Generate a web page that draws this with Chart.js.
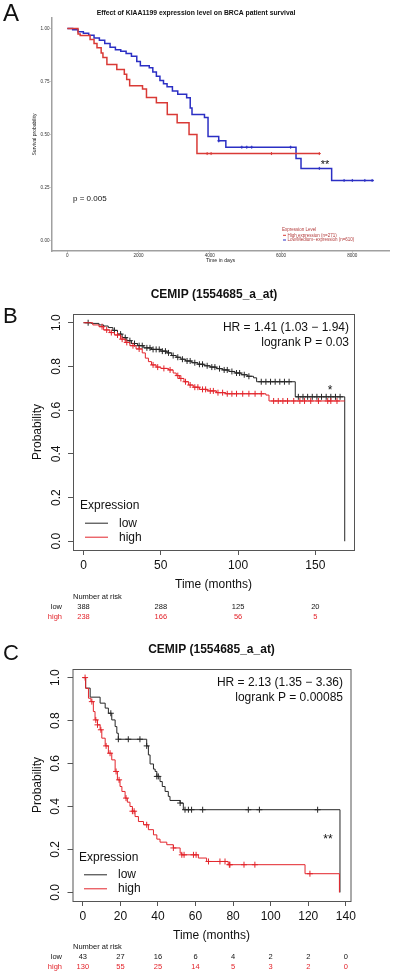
<!DOCTYPE html>
<html>
<head>
<meta charset="utf-8">
<script src="https://cdn.jsdelivr.net/npm/chart.js@4"></script>
<style>
  body { margin: 0; background: #fff; }
  #wrap { position: relative; width: 394px; height: 976px; }
  canvas { position: absolute; left: 0; }
</style>
</head>
<body>
<div id="wrap">
  <canvas id="chartA" width="394" height="270" style="top:0;width:394px;height:270px"></canvas>
  <canvas id="chartB" width="394" height="370" style="top:270px;width:394px;height:370px"></canvas>
  <canvas id="chartC" width="394" height="336" style="top:640px;width:394px;height:336px"></canvas>
</div>
<script>
// ---- panel A : TCGA BRCA, time in days ----
const daysTicksA = [0, 2000, 4000, 6000, 8000];
const probTicksA = [0, 0.25, 0.5, 0.75, 1];
const highA = [[0,1],[300,0.975],[361,0.967],[639,0.948],[750,0.93],[833,0.91],[950,0.885],[1000,0.863],[1111,0.83],
  [1389,0.807],[1600,0.785],[1667,0.76],[1750,0.73],[2111,0.715],[2222,0.675],[2500,0.65],[2806,0.594],[3083,0.555],
  [3417,0.5],[3639,0.41],[7083,0.41]];
const lowMedA = [[0,1],[150,0.995],[300,0.985],[450,0.978],[600,0.968],[750,0.955],[900,0.945],[1050,0.93],[1200,0.912],
  [1350,0.9],[1500,0.893],[1650,0.882],[1800,0.87],[1950,0.845],[2050,0.825],[2300,0.815],[2400,0.795],[2500,0.775],
  [2600,0.755],[2700,0.74],[2800,0.725],[2950,0.705],[3100,0.69],[3350,0.674],[3450,0.625],[3500,0.594],[3850,0.58],
  [3950,0.49],[4250,0.47],[4450,0.44],[6420,0.387],[6560,0.34],[7420,0.283],[8600,0.283]];
const highCensorA = [3925, 4036, 5731, 7074];
const lowMedCensorA = [4250, 4898, 5037, 5176, 6269, 7074, 7769, 8000, 8352, 8556];
const legendA = ['High expression (n=271)', 'Low/Medium\u2212expression (n=610)'];

// ---- panel B ----
const monthTicksB = [0, 50, 100, 150];
const probTicksBC = [0, 0.2, 0.4, 0.6, 0.8, 1];
const lowB = [[0,1],[5,0.997],[10,0.99],[13,0.985],[16,0.978],[19,0.965],[22,0.948],[25,0.932],[28,0.918],[31,0.905],
  [35,0.895],[39,0.885],[44,0.878],[50,0.87],[54,0.862],[57,0.85],[60,0.842],[63,0.833],[66,0.825],[70,0.817],[74,0.81],
  [78,0.803],[82,0.797],[86,0.79],[90,0.784],[94,0.777],[98,0.77],[102,0.762],[106,0.755],[110,0.748],[112,0.73],
  [137,0.661],[169,0]];
const highB = [[0,1],[6,0.99],[10,0.982],[13,0.967],[17,0.955],[20,0.944],[24,0.925],[27,0.91],[30,0.895],[34,0.88],
  [38,0.862],[40,0.838],[42,0.822],[44,0.807],[47,0.797],[50,0.791],[55,0.784],[58,0.77],[60,0.758],[62,0.745],
  [65,0.73],[68,0.715],[71,0.705],[75,0.695],[80,0.688],[86,0.68],[92,0.675],[118,0.669],[120,0.642],[169,0.642]];
const lowCensorB = [3,20,24,27,30,33,36,38,41,43,45,47,49,51,53,55,58,61,64,67,69,72,75,77,80,83,85,88,91,93,96,99,
  101,104,107,115,118,121,124,127,130,133,139,142,145,148,151,154,157,160,163,166];
const highCensorB = [12,15,18,22,25,28,32,36,45,48,52,56,61,63,66,69,72,74,77,79,82,84,87,90,93,96,99,103,107,111,
  115,123,126,129,132,136,140,143,147,152,158,160,164];
const riskLowB = [388, 288, 125, 20];
const riskHighB = [238, 166, 56, 5];

// ---- panel C ----
const monthTicksC = [0, 20, 40, 60, 80, 100, 120, 140];
const lowC = [[0,1],[1.5,0.951],[3.9,0.909],[9.2,0.881],[11.9,0.858],[13.6,0.834],[15.4,0.803],[17.2,0.772],[18.1,0.741],
  [18.9,0.713],[34,0.682],[34.9,0.64],[35.8,0.598],[37.6,0.574],[38.5,0.563],[39.4,0.54],[41.1,0.516],[42.3,0.493],
  [43.8,0.47],[45.5,0.447],[46.4,0.428],[51.8,0.416],[53.5,0.385],[136.9,0]];
const highC = [[0,1],[1.5,0.95],[3,0.904],[4.3,0.888],[5.6,0.842],[6.5,0.803],[7.8,0.78],[9.2,0.757],[10.1,0.718],
  [11.9,0.682],[13.6,0.648],[15.4,0.617],[17.2,0.563],[18.4,0.524],[19.8,0.493],[20.8,0.47],[22.5,0.439],[23.7,0.42],
  [25.1,0.4],[26.4,0.378],[27.8,0.353],[29.6,0.33],[32.3,0.315],[34.9,0.292],[37.6,0.268],[39.4,0.248],[41.1,0.234],
  [44.7,0.222],[48.2,0.207],[51.8,0.183],[52.7,0.175],[61.5,0.16],[65.9,0.144],[77.4,0.129],[118.3,0.087],[136.6,0]];
const lowCensorC = [14.9,18.9,24.2,30.4,34,39.4,40.2,51.8,54.4,56.2,57.9,63.8,88.1,94,125];
const highCensorC = [1.2,4.8,6.9,7.8,9.6,12.4,14.5,17.7,19.3,23,26.4,27.3,34,48.2,52.7,53.9,58.9,60.3,66.9,73,75.7,
  78,78.3,85.8,91.6,120.9];
const riskLowC = [43, 27, 16, 6, 4, 2, 2, 0];
const riskHighC = [130, 55, 25, 14, 5, 3, 2, 0];

const FONT = "'Liberation Sans', Arial, sans-serif";
const RED = '#e3242b';
const DARK = '#262626';
Chart.defaults.font.family = FONT;
Chart.defaults.color = '#111';

// survival value at time t from a list of [time, value] steps
function survAt(steps, t) {
  let s = steps[0][1];
  for (const [x, y] of steps) {
    if (x <= t) s = y; else break;
  }
  return s;
}

function kmLine(steps, color, width) {
  return { data: steps.map(([x, y]) => ({ x, y })), borderColor: color, borderWidth: width,
    stepped: true, pointRadius: 0, fill: false };
}

function censor(times, steps, color, r) {
  return { data: times.map(t => ({ x: t, y: survAt(steps, t) })), showLine: false, pointStyle: 'cross',
    pointRadius: r, borderColor: color, backgroundColor: color, borderWidth: 1 };
}

function txt(ctx, s, x, y, size, opts = {}) {
  ctx.font = (opts.weight || 'normal') + ' ' + size + 'px ' + FONT;
  ctx.fillStyle = opts.color || '#111';
  ctx.textAlign = opts.align || 'left';
  ctx.textBaseline = 'middle';
  ctx.fillText(s, x, y);
}

function overlay(draw) {
  return { id: 'overlay', afterDraw(chart) { const ctx = chart.ctx; ctx.save(); draw(ctx, chart); ctx.restore(); } };
}

const baseOpts = {
  responsive: false, animation: false, devicePixelRatio: 1, events: [],
  plugins: { legend: { display: false }, tooltip: { enabled: false } }
};

// R style axes (box drawn by the overlay)
function rScales(xMin, xMax, xTicks, yWidth) {
  const tickGrid = { drawOnChartArea: false, drawTicks: true, tickLength: 5, tickColor: '#555', lineWidth: 1 };
  return {
    x: {
      type: 'linear', min: xMin, max: xMax,
      afterBuildTicks: s => { s.ticks = xTicks.map(v => ({ value: v })); },
      afterFit: s => { s.height = 45; },
      grid: tickGrid, border: { display: false },
      ticks: { font: { size: 12 }, padding: 3, maxRotation: 0, autoSkip: false, callback: v => String(v) },
      title: { display: true, text: 'Time (months)', font: { size: 12 }, padding: { top: 0, bottom: 3 } }
    },
    y: {
      min: -0.04, max: 1.04,
      afterBuildTicks: s => { s.ticks = probTicksBC.map(v => ({ value: v })); },
      afterFit: s => { s.width = yWidth; },
      grid: tickGrid, border: { display: false },
      ticks: { font: { size: 12 }, padding: 3, minRotation: 90, maxRotation: 90, crossAlign: 'center',
        callback: v => v.toFixed(1) },
      title: { display: true, text: 'Probability', font: { size: 12 }, padding: { top: 30, bottom: 0 } }
    }
  };
}

function drawRPanel(ctx, chart, p) {
  const a = chart.chartArea;
  ctx.strokeStyle = '#555';
  ctx.lineWidth = 1;
  ctx.strokeRect(a.left + 0.5, a.top + 0.5, a.right - a.left, a.bottom - a.top);
  txt(ctx, p.letter, 3, p.letterY, 22);
  txt(ctx, 'CEMIP (1554685_a_at)', p.titleX, p.titleY, 12, { weight: 'bold', align: 'center' });
  txt(ctx, p.hr, p.hrX, p.hrY, 12, { align: 'right' });
  txt(ctx, p.logrank, p.hrX, p.hrY + 14.5, 12, { align: 'right' });
  txt(ctx, p.star, p.starX, p.starY, 12, { align: 'center' });
  // legend
  txt(ctx, 'Expression', p.legX, p.legY, 12);
  [['low', DARK], ['high', RED]].forEach(([name, col], i) => {
    const y = p.legY + 17.5 + i * 14;
    ctx.strokeStyle = col;
    ctx.beginPath(); ctx.moveTo(p.legX + 5, y); ctx.lineTo(p.legX + 28, y); ctx.stroke();
    txt(ctx, name, p.legX + 39, y, 12);
  });
  // number at risk
  const xs = chart.scales.x;
  txt(ctx, 'Number at risk', 73, p.riskY, 7.5);
  txt(ctx, 'low', 62, p.riskY + 10, 7.5, { align: 'right' });
  txt(ctx, 'high', 62, p.riskY + 20, 7.5, { align: 'right', color: RED });
  p.ticks.forEach((t, i) => {
    txt(ctx, String(p.riskLow[i]), xs.getPixelForValue(t), p.riskY + 10, 7.5, { align: 'center' });
    txt(ctx, String(p.riskHigh[i]), xs.getPixelForValue(t), p.riskY + 20, 7.5, { align: 'center', color: RED });
  });
}

// ---------------- Panel A ----------------
new Chart(document.getElementById('chartA'), {
  type: 'line',
  data: {
    datasets: [
      kmLine(highA, '#d93a36', 1.5),
      kmLine(lowMedA, '#2b2fc4', 1.5),
      censor(highCensorA, highA, '#d93a36', 1.5),
      censor(lowMedCensorA, lowMedA, '#2b2fc4', 1.5)
    ]
  },
  options: {
    ...baseOpts,
    layout: { padding: { left: 30, right: 2, top: 18, bottom: 5 } },
    scales: {
      x: {
        type: 'linear', min: -430, max: 9030,
        afterBuildTicks: s => { s.ticks = daysTicksA.map(v => ({ value: v })); },
        afterFit: s => { s.height = 14; },
        grid: { drawOnChartArea: false, tickLength: 1.5, tickColor: '#999' },
        border: { display: true, color: '#a0a0a0', width: 1.5 },
        ticks: { font: { size: 4.6 }, color: '#333', padding: 0, maxRotation: 0, autoSkip: false, callback: v => String(v) },
        title: { display: true, text: 'Time in days', font: { size: 5.2 }, color: '#222', padding: { top: 0, bottom: 0.9 } }
      },
      y: {
        min: -0.05, max: 1.05,
        afterBuildTicks: s => { s.ticks = probTicksA.map(v => ({ value: v })); },
        afterFit: s => { s.width = 22; },
        grid: { drawOnChartArea: false, tickLength: 1.5, tickColor: '#999' },
        border: { display: true, color: '#a0a0a0', width: 1.5 },
        ticks: { font: { size: 4.6 }, color: '#333', padding: 1, callback: v => v.toFixed(2) },
        title: { display: true, text: 'Survival probability', font: { size: 5 }, color: '#222', padding: { top: 2, bottom: 0 } }
      }
    }
  },
  plugins: [overlay((ctx, chart) => {
    txt(ctx, 'A', 3, 14, 24);
    txt(ctx, 'Effect of KIAA1199 expression level on BRCA patient survival', 196, 13, 6.8, { weight: 'bold', align: 'center' });
    txt(ctx, 'p = 0.005', 73, 199, 8);
    txt(ctx, '**', 325, 164.5, 11, { align: 'center' });
    txt(ctx, 'Expression Level', 282, 229.6, 4.5, { color: '#b23a3a' });
    [['#d93a36', 235.3], ['#2b2fc4', 240]].forEach(([col, y], i) => {
      ctx.strokeStyle = col; ctx.lineWidth = 1;
      ctx.beginPath(); ctx.moveTo(283, y); ctx.lineTo(286, y); ctx.stroke();
      txt(ctx, legendA[i], 287.5, y, 4.5, { color: '#b23a3a' });
    });
  })]
});

// ---------------- Panel B ----------------
new Chart(document.getElementById('chartB'), {
  type: 'line',
  data: {
    datasets: [
      kmLine(highB, RED, 1),
      censor(highCensorB, highB, RED, 3),
      kmLine(lowB, DARK, 1),
      censor(lowCensorB, lowB, DARK, 3)
    ]
  },
  options: {
    ...baseOpts,
    layout: { padding: { left: 0, right: 40, top: 44, bottom: 45 } },
    scales: rScales(-6.8, 175, monthTicksB, 73)
  },
  plugins: [overlay((ctx, chart) => drawRPanel(ctx, chart, {
    letter: 'B', letterY: 47, titleX: 214, titleY: 25,
    hr: 'HR = 1.41 (1.03 \u2212 1.94)', logrank: 'logrank P = 0.03', hrX: 349, hrY: 57.7,
    star: '*', starX: 330, starY: 120.5,
    legX: 80, legY: 235.7,
    riskY: 327, ticks: monthTicksB, riskLow: riskLowB, riskHigh: riskHighB
  }))]
});

// ---------------- Panel C ----------------
new Chart(document.getElementById('chartC'), {
  type: 'line',
  data: {
    datasets: [
      kmLine(highC, RED, 1),
      censor(highCensorC, highC, RED, 3),
      kmLine(lowC, DARK, 1),
      censor(lowCensorC, lowC, DARK, 3)
    ]
  },
  options: {
    ...baseOpts,
    layout: { padding: { left: 0, right: 43.5, top: 29, bottom: 30 } },
    scales: rScales(-5.5, 142.5, monthTicksC, 72.5)
  },
  plugins: [overlay((ctx, chart) => drawRPanel(ctx, chart, {
    letter: 'C', letterY: 14, titleX: 211.5, titleY: 9.5,
    hr: 'HR = 2.13 (1.35 \u2212 3.36)', logrank: 'logrank P = 0.00085', hrX: 343, hrY: 42.7,
    star: '**', starX: 328, starY: 200,
    legX: 79, legY: 217.3,
    riskY: 306.7, ticks: monthTicksC, riskLow: riskLowC, riskHigh: riskHighC
  }))]
});
</script>
</body>
</html>
